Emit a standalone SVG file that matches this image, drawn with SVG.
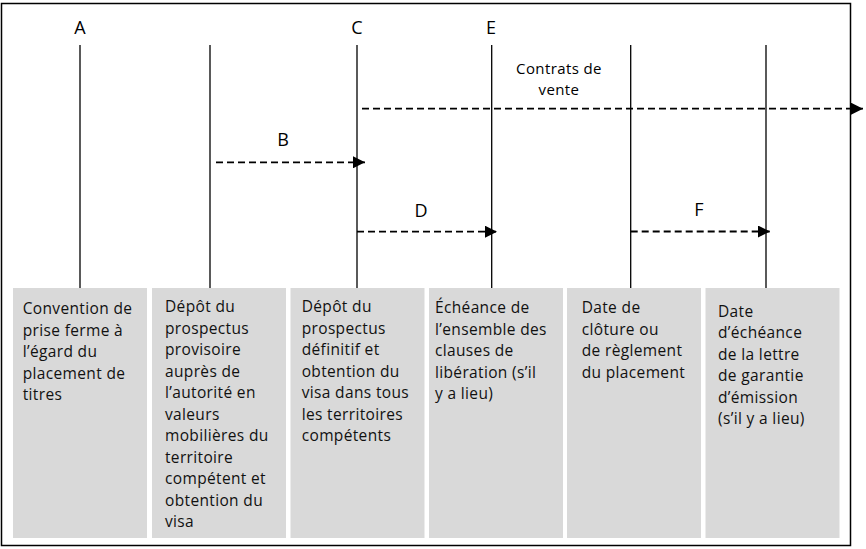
<svg xmlns="http://www.w3.org/2000/svg" width="866" height="549" viewBox="0 0 866 549">
<defs>
<marker id="ah" markerWidth="12" markerHeight="12" refX="12" refY="6" orient="auto" markerUnits="userSpaceOnUse">
<path d="M0,0 L12,6 L0,12 Z" fill="#000"/>
</marker>
<style>
.frame{fill:#fff;stroke:#000;stroke-width:1.5}
.vl{stroke:#000;stroke-width:1.3;fill:none}
.dash{stroke:#000;stroke-width:1.8;stroke-dasharray:7 4;fill:none}
.box{fill:#d9d9d9;stroke:none}
.hdr{font-family:"Open Sans","Liberation Sans",sans-serif;font-size:18px;fill:#000;text-anchor:middle}
.lbl{font-family:"Open Sans","Liberation Sans",sans-serif;font-size:15px;fill:#000;text-anchor:middle;letter-spacing:0.4px}
.bt{font-family:"Open Sans","Liberation Sans",sans-serif;font-size:15.5px;fill:#111;letter-spacing:0.35px}
</style>
</defs>
<rect class="frame" x="1.5" y="3.5" width="849" height="542"/>
<g id="connectors">
<line class="vl" x1="80" y1="45" x2="80" y2="288"/>
<line class="vl" x1="210" y1="45" x2="210" y2="288"/>
<line class="vl" x1="357" y1="45" x2="357" y2="288"/>
<line class="vl" x1="491.7" y1="45" x2="491.7" y2="288"/>
<line class="vl" x1="630.7" y1="45" x2="630.7" y2="288"/>
<line class="vl" x1="766" y1="45" x2="766" y2="288"/>
<line class="dash" x1="362" y1="108.7" x2="863" y2="108.7" marker-end="url(#ah)"/>
<line class="dash" x1="216" y1="162.3" x2="365" y2="162.3" marker-end="url(#ah)"/>
<line class="dash" x1="357" y1="231.7" x2="497" y2="231.7" marker-end="url(#ah)"/>
<line class="dash" x1="630.7" y1="231.5" x2="770" y2="231.5" marker-end="url(#ah)"/>
</g>
<g id="labels">
<text class="hdr" x="80" y="34">A</text>
<text class="hdr" x="357" y="34">C</text>
<text class="hdr" x="491" y="34">E</text>
<text class="hdr" x="283" y="146">B</text>
<text class="hdr" x="421" y="217">D</text>
<text class="hdr" x="699" y="216">F</text>
<text class="lbl" x="559" y="74">Contrats de</text>
<text class="lbl" x="559" y="95">vente</text>
</g>
<g id="node1">
<rect class="box" x="13" y="288" width="134" height="250"/>
<text class="bt" x="22.7" y="314"><tspan x="22.7">Convention de</tspan><tspan x="22.7" dy="21.5">prise ferme à</tspan><tspan x="22.7" dy="21.5">l’égard du</tspan><tspan x="22.7" dy="21.5">placement de</tspan><tspan x="22.7" dy="21.5">titres</tspan></text>
</g>
<g id="node2">
<rect class="box" x="152" y="288" width="134" height="250"/>
<text class="bt" x="165" y="312"><tspan x="165">Dépôt du</tspan><tspan x="165" dy="21.5">prospectus</tspan><tspan x="165" dy="21.5">provisoire</tspan><tspan x="165" dy="21.5">auprès de</tspan><tspan x="165" dy="21.5">l’autorité en</tspan><tspan x="165" dy="21.5">valeurs</tspan><tspan x="165" dy="21.5">mobilières du</tspan><tspan x="165" dy="21.5">territoire</tspan><tspan x="165" dy="21.5">compétent et</tspan><tspan x="165" dy="21.5">obtention du</tspan><tspan x="165" dy="21.5">visa</tspan></text>
</g>
<g id="node3">
<rect class="box" x="290.5" y="288" width="134" height="250"/>
<text class="bt" x="301.7" y="312"><tspan x="301.7">Dépôt du</tspan><tspan x="301.7" dy="21.5">prospectus</tspan><tspan x="301.7" dy="21.5">définitif et</tspan><tspan x="301.7" dy="21.5">obtention du</tspan><tspan x="301.7" dy="21.5">visa dans tous</tspan><tspan x="301.7" dy="21.5">les territoires</tspan><tspan x="301.7" dy="21.5">compétents</tspan></text>
</g>
<g id="node4">
<rect class="box" x="429" y="288" width="134" height="250"/>
<text class="bt" x="435" y="313"><tspan x="435">Échéance de</tspan><tspan x="435" dy="21.5">l’ensemble des</tspan><tspan x="435" dy="21.5">clauses de</tspan><tspan x="435" dy="21.5">libération (s’il</tspan><tspan x="435" dy="21.5">y a lieu)</tspan></text>
</g>
<g id="node5">
<rect class="box" x="567" y="288" width="134" height="250"/>
<text class="bt" x="581.7" y="313"><tspan x="581.7">Date de</tspan><tspan x="581.7" dy="21.5">clôture ou</tspan><tspan x="581.7" dy="21.5">de règlement</tspan><tspan x="581.7" dy="21.5">du placement</tspan></text>
</g>
<g id="node6">
<rect class="box" x="705.5" y="288" width="134" height="250"/>
<text class="bt" x="718" y="316.5"><tspan x="718">Date</tspan><tspan x="718" dy="21.5">d’échéance</tspan><tspan x="718" dy="21.5">de la lettre</tspan><tspan x="718" dy="21.5">de garantie</tspan><tspan x="718" dy="21.5">d’émission</tspan><tspan x="718" dy="21.5">(s’il y a lieu)</tspan></text>
</g>
</svg>
